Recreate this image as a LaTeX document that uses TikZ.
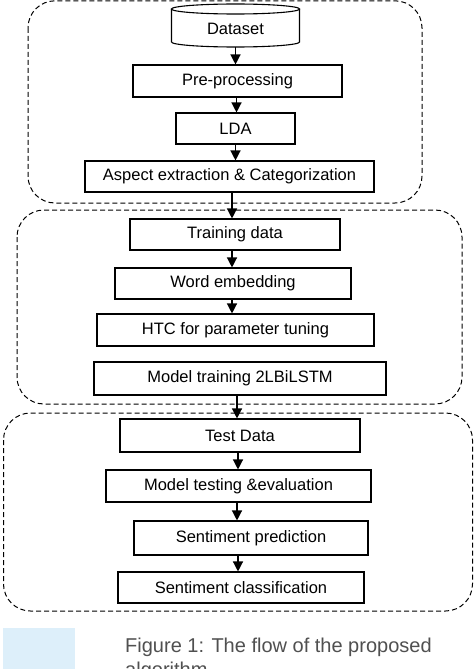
\documentclass[tikz,border=0pt]{standalone}
\usepackage{fontspec}
\setmainfont{Liberation Sans}
\usetikzlibrary{arrows.meta}
\definecolor{capgray}{HTML}{505050}
\definecolor{capblue}{HTML}{DDEFFA}
\tikzset{
  x=1pt, y=1pt,
  stepbox/.style={draw, line width=1.1pt, fill=white, inner sep=0pt, font=\fontsize{16.5}{19}\selectfont},
  grp/.style={draw, line width=1pt, dash pattern=on 5pt off 3pt, rounded corners=27pt},
  arr/.style={line width=1.3pt, -{Triangle[width=10pt,length=10pt]}},
}
\begin{document}
\begin{tikzpicture}
\useasboundingbox (0,0) rectangle (474,-669);
\clip (0,0) rectangle (474,-669);
\fill[white] (0,0) rectangle (474,-669);
% group frames
\draw[grp] (28,-0.8) rectangle (422,-203);
\draw[grp] (17,-210) rectangle (462,-404);
\draw[grp] (3.5,-413) rectangle (472.5,-611);
% cylinder
\draw[line width=1.1pt, fill=white] (171.5,-9) -- (171.5,-42) arc[start angle=180, end angle=360, x radius=64pt, y radius=5pt] -- (299.5,-9);
\draw[line width=1.1pt] (235.5,-9) ellipse[x radius=64pt, y radius=5pt];
\node[inner sep=0pt, minimum width=128pt, minimum height=36pt, font=\fontsize{16.5}{19}\selectfont] (ds) at (235.5,-29) {Dataset};
% boxes
\node[stepbox, minimum width=209pt, minimum height=32pt] (pre) at (237.5,-81) {Pre-processing};
\node[stepbox, minimum width=119pt, minimum height=31pt] (lda) at (235.5,-128.5) {LDA};
\node[stepbox, minimum width=289pt, minimum height=31pt] (asp) at (229.5,-176.5) {Aspect extraction \& Categorization};
\node[stepbox, minimum width=210pt, minimum height=31pt] (tr) at (235,-234.5) {Training data};
\node[stepbox, minimum width=236pt, minimum height=31pt] (we) at (233,-283.5) {Word embedding};
\node[stepbox, minimum width=277pt, minimum height=32pt] (htc) at (235.5,-330) {HTC for parameter tuning};
\node[stepbox, minimum width=292pt, minimum height=33pt] (mtr) at (240,-378.5) {Model training 2LBiLSTM};
\node[stepbox, minimum width=240pt, minimum height=33pt] (td) at (240,-435.5) {Test Data};
\node[stepbox, minimum width=265pt, minimum height=32pt] (mte) at (238.5,-486) {Model testing \&evaluation};
\node[stepbox, minimum width=234pt, minimum height=34pt] (sp) at (251,-538) {Sentiment prediction};
\node[stepbox, minimum width=246pt, minimum height=31pt] (sc) at (241,-587.5) {Sentiment classification};
% arrows
\draw[arr] (ds.south) -- (ds.south |- pre.north);
\draw[arr] ([xshift=-1pt]pre.south) -- ([xshift=-1pt]pre.south |- lda.north);
\draw[arr] (lda.south) -- (lda.south |- asp.north);
\draw[arr] ([xshift=2.5pt]asp.south) -- ([xshift=2.5pt]asp.south |- tr.north);
\draw[arr] ([xshift=-3pt]tr.south) -- ([xshift=-3pt]tr.south |- we.north);
\draw[arr] ([xshift=-1pt]we.south) -- ([xshift=-1pt]we.south |- htc.north);
\draw[arr] ([xshift=-3pt]mtr.south) -- ([xshift=-3pt]mtr.south |- td.north);
\draw[arr] ([xshift=-2pt]td.south) -- ([xshift=-2pt]td.south |- mte.north);
\draw[arr] ([xshift=-1.5pt]mte.south) -- ([xshift=-1.5pt]mte.south |- sp.north);
\draw[arr] ([xshift=-13pt]sp.south) -- ([xshift=-13pt]sp.south |- sc.north);
% caption
\fill[capblue] (3,-628) rectangle (75,-669);
\node[anchor=base west, inner sep=0pt, text=capgray, font=\fontsize{20}{24}\selectfont] (cap1) at (125,-652) {Figure 1: The flow of the proposed};
\node[anchor=base west, inner sep=0pt, text=capgray, font=\fontsize{20}{24}\selectfont] (cap2) at (125,-676) {algorithm};
\end{tikzpicture}
\end{document}
